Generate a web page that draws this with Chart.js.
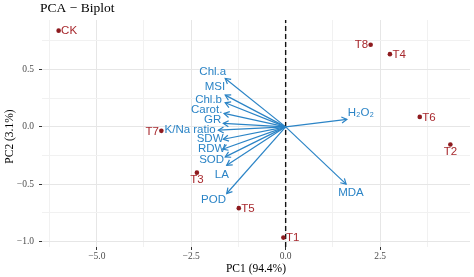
<!DOCTYPE html>
<html>
<head>
<meta charset="utf-8">
<script src="https://cdn.jsdelivr.net/npm/chart.js@4/dist/chart.umd.min.js"></script>
<style>
  html, body { margin: 0; padding: 0; background: #fff; }
</style>
</head>
<body>
<canvas id="chart" width="474" height="277"></canvas>
<script>
// sample scores (PC1, PC2)
const samples = ['CK', 'T1', 'T2', 'T3', 'T4', 'T5', 'T6', 'T7', 'T8']
const pc1 = [-6.01, -0.06, 4.36, -2.35, 2.76, -1.24, 3.55, -3.29, 2.25]
const pc2 = [0.84, -0.967, -0.154, -0.40, 0.635, -0.71, 0.087, -0.035, 0.717]
const sampleSide = ['right', 'right', 'below', 'below', 'right', 'right', 'right', 'left', 'left']

// variable loadings (arrow tips) and where their names sit
const variables = ['Chl.a', 'MSI', 'Chl.b', 'Carot.', 'GR', 'K/Na ratio', 'SDW', 'RDW', 'SOD', 'LA', 'POD', 'H₂O₂', 'MDA']
const loadX = [-1.60, -1.60, -1.60, -1.63, -1.65, -1.78, -1.65, -1.67, -1.60, -1.56, -1.56, 1.62, 1.60]
const loadY = [0.423, 0.277, 0.21, 0.117, 0.03, -0.029, -0.108, -0.195, -0.262, -0.335, -0.582, 0.065, -0.50]
const varLabelX = [-1.93, -1.87, -2.04, -2.09, -1.93, -2.53, -2.00, -1.96, -1.96, -1.69, -1.91, 1.99, 1.73]
const varLabelY = [0.481, 0.35, 0.233, 0.146, 0.059, -0.029, -0.108, -0.195, -0.291, -0.422, -0.64, 0.122, -0.573]

const xTicks = [-5, -2.5, 0, 2.5]
const yTicks = [-1, -0.5, 0, 0.5]
const xRange = [-6.45, 4.88]
const yRange = [-1.049, 0.933]

const RED = '#8e1b1f'
const RED_TEXT = '#a8292e'
const BLUE = '#2b84c6'
const SERIF = '"Liberation Serif", "Times New Roman", serif'
const SANS = '"Liberation Sans", Arial, sans-serif'

const withMinor = ticks => {
  const step = ticks[1] - ticks[0]
  const out = []
  for (let v = ticks[0] - step / 2; v <= ticks[ticks.length - 1] + step / 2 + 1e-9; v += step / 2) out.push(+v.toFixed(4))
  return out
}
const isMajor = (list, v) => list.some(t => Math.abs(t - v) < 1e-6)
const fmt = v => v.toFixed(1).replace('-', '\u2212')

const axisOpts = (list, range) => ({
  type: 'linear',
  min: range[0],
  max: range[1],
  afterBuildTicks: axis => { axis.ticks = withMinor(list).filter(v => v >= range[0] && v <= range[1]).map(v => ({ value: v })) },
  border: { display: false },
  grid: {
    color: c => isMajor(list, c.tick.value) ? '#e6e6e6' : '#f1f1f1',
    lineWidth: 1,
    tickLength: 3,
    tickColor: c => isMajor(list, c.tick.value) ? '#333' : 'rgba(0,0,0,0)',
    tickWidth: 1
  },
  ticks: {
    autoSkip: false,
    maxRotation: 0,
    color: '#4d4d4d',
    font: { family: SERIF, size: 9.5 },
    callback: v => isMajor(list, v) ? fmt(v) : ''
  }
})

const arrows = variables.map((name, i) => ({
  label: name,
  data: [{ x: 0, y: 0 }, { x: loadX[i], y: loadY[i] }],
  showLine: true,
  borderColor: BLUE,
  borderWidth: 1.2,
  pointRadius: 0
}))

const annotate = {
  id: 'annotate',
  afterDatasetsDraw(chart) {
    const { ctx, scales: { x, y } } = chart
    ctx.save()
    // arrow heads
    ctx.strokeStyle = BLUE
    ctx.lineWidth = 1.2
    const x0 = x.getPixelForValue(0), y0 = y.getPixelForValue(0)
    variables.forEach((_, i) => {
      const x1 = x.getPixelForValue(loadX[i]), y1 = y.getPixelForValue(loadY[i])
      const a = Math.atan2(y1 - y0, x1 - x0)
      const L = 6
      ctx.beginPath()
      ctx.moveTo(x1 - L * Math.cos(a - Math.PI / 6), y1 - L * Math.sin(a - Math.PI / 6))
      ctx.lineTo(x1, y1)
      ctx.lineTo(x1 - L * Math.cos(a + Math.PI / 6), y1 - L * Math.sin(a + Math.PI / 6))
      ctx.stroke()
    })
    // variable names
    ctx.fillStyle = BLUE
    ctx.font = '11.5px ' + SANS
    ctx.textAlign = 'center'
    ctx.textBaseline = 'middle'
    variables.forEach((name, i) => {
      ctx.fillText(name, x.getPixelForValue(varLabelX[i]), y.getPixelForValue(varLabelY[i]))
    })
    // sample names
    ctx.fillStyle = RED_TEXT
    samples.forEach((name, i) => {
      const px = x.getPixelForValue(pc1[i]), py = y.getPixelForValue(pc2[i])
      const side = sampleSide[i]
      if (side === 'right') { ctx.textAlign = 'left'; ctx.fillText(name, px + 2.5, py + 0.5) }
      else if (side === 'left') { ctx.textAlign = 'right'; ctx.fillText(name, px - 2.5, py + 0.5) }
      else { ctx.textAlign = 'center'; ctx.fillText(name, px, py + 7.5) }
    })
    ctx.restore()
  },
  afterDraw(chart) {
    const { ctx, chartArea } = chart
    ctx.save()
    ctx.fillStyle = '#000'
    ctx.textBaseline = 'middle'
    ctx.font = '13.5px ' + SERIF
    ctx.textAlign = 'left'
    ctx.fillText('PCA \u2212 Biplot', 40, 8.5)
    ctx.font = '11.5px ' + SERIF
    ctx.textAlign = 'center'
    ctx.fillText('PC1 (94.4%)', (chartArea.left + chartArea.right) / 2, 269)
    ctx.translate(10, (chartArea.top + chartArea.bottom) / 2 + 3)
    ctx.rotate(-Math.PI / 2)
    ctx.fillText('PC2 (3.1%)', 0, 0)
    ctx.restore()
  }
}

new Chart('chart', {
  type: 'scatter',
  data: {
    datasets: [
      {
        label: 'samples',
        data: samples.map((_, i) => ({ x: pc1[i], y: pc2[i] })),
        pointRadius: 2.3,
        pointBackgroundColor: RED,
        pointBorderWidth: 0
      },
      ...arrows,
      {
        label: 'zero',
        data: [{ x: 0, y: yRange[0] }, { x: 0, y: yRange[1] }],
        showLine: true,
        borderColor: '#111',
        borderWidth: 1.4,
        borderDash: [5, 3],
        pointRadius: 0
      }
    ]
  },
  options: {
    responsive: false,
    animation: false,
    layout: { padding: { top: 20, right: 1, left: 0, bottom: 0 } },
    plugins: { legend: { display: false }, tooltip: { enabled: false } },
    scales: {
      x: Object.assign(axisOpts(xTicks, xRange), {
        afterFit: s => { s.height = 30 },
        ticks: Object.assign(axisOpts(xTicks, xRange).ticks, { padding: 1 })
      }),
      y: Object.assign(axisOpts(yTicks, yRange), {
        afterFit: s => { s.width = 42 },
        ticks: Object.assign(axisOpts(yTicks, yRange).ticks, { padding: 5 })
      })
    }
  },
  plugins: [annotate]
})
</script>
</body>
</html>
